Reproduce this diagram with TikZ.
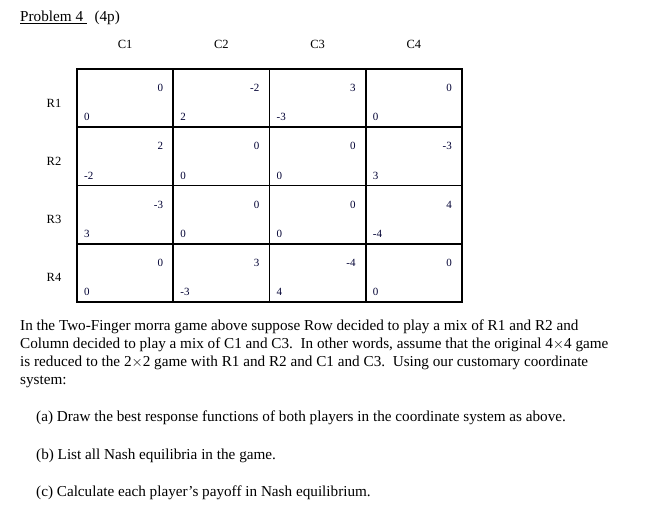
\documentclass[tikz,border=0pt]{standalone}
\usepackage{fontspec}
\setmainfont{Liberation Serif}
\begin{document}
\begin{tikzpicture}[x=1pt,y=-1pt,
  num/.style={font=\fontsize{11}{13}\selectfont,text=black!80!blue,inner sep=0pt},
  lab/.style={font=\fontsize{12.5}{14}\selectfont,inner sep=0pt},
  txt/.style={font=\fontsize{15.2}{18}\selectfont,inner sep=0pt,anchor=base west}]
\useasboundingbox (0,0) rectangle (657,521);
\foreach \i in {1,2,3} {
  \draw[line width=1.6pt] ({77+96.25*\i},69) -- ({77+96.25*\i},302);
  \draw[line width=1.6pt] (77,{69+58.25*\i}) -- (462,{69+58.25*\i});
}
\draw[line width=1.6pt] (77,69) rectangle (462,302);
\node[txt] (title) at (20,22) {\underline{Problem 4\ }\ \ (4p)};
\foreach \c [count=\i] in {C1,C2,C3,C4}
  \node[lab] (c\i) at ({77+96.25*(\i-0.5)},44) {\c};
\foreach \r [count=\j] in {R1,R2,R3,R4}
  \node[lab] (r\j) at (54,{69+58.25*(\j-0.5)+5}) {\r};
\foreach \row [count=\j] in {{0/0,-2/2,3/-3,0/0},{2/-2,0/0,0/0,-3/3},{-3/3,0/0,0/0,4/-4},{0/0,3/-3,-4/4,0/0}}{
  \foreach \a/\b [count=\i] in \row {
    \node[num,anchor=east] (t\i\j) at ({77+96.25*\i-10},{69+58.25*(\j-1)+19}) {\a};
    \node[num,anchor=west] (b\i\j) at ({77+96.25*(\i-1)+7},{69+58.25*\j-10}) {\b};
  }
}
\node[txt] (p1) at (20,331) {In the Two-Finger morra game above suppose Row decided to play a mix of R1 and R2 and};
\node[txt] (p2) at (20,349) {Column decided to play a mix of C1 and C3.\ \ In other words, assume that the original 4$\times$4 game};
\node[txt] (p3) at (20,367) {is reduced to the 2$\times$2 game with R1 and R2 and C1 and C3.\ \ Using our customary coordinate};
\node[txt] (p4) at (20,385) {system:};
\node[txt] (qa) at (36,422) {(a) Draw the best response functions of both players in the coordinate system as above.};
\node[txt] (qb) at (36,460) {(b) List all Nash equilibria in the game.};
\node[txt] (qc) at (36,497) {(c) Calculate each player’s payoff in Nash equilibrium.};
\end{tikzpicture}
\end{document}
